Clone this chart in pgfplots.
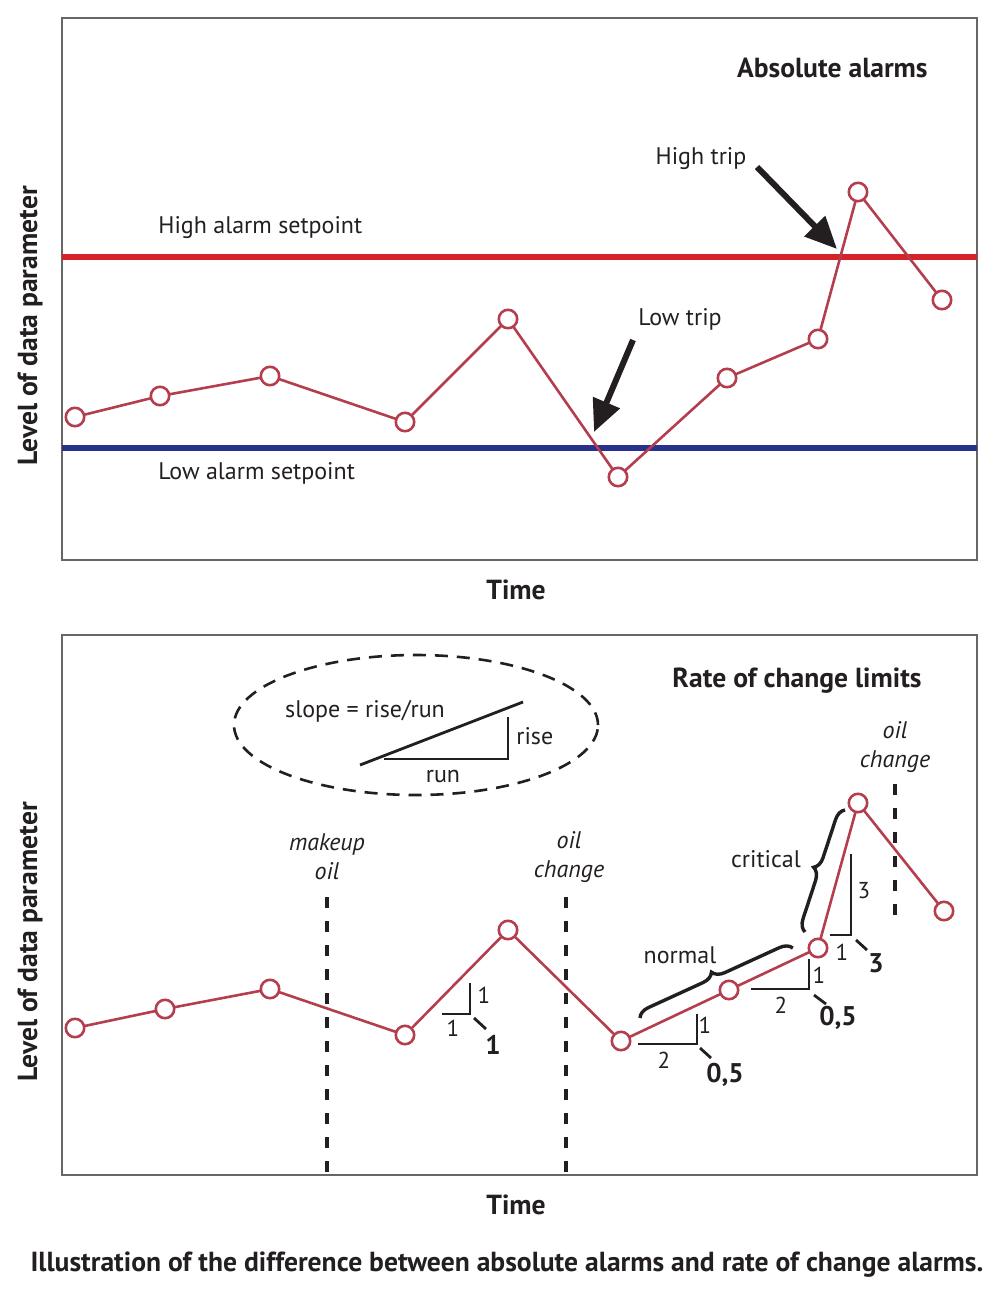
\documentclass[border=0pt]{standalone}
\usepackage{fontspec}
\setmainfont{PT Sans}
\usepackage{pgfplots}
\pgfplotsset{compat=1.18}
\usetikzlibrary{arrows.meta,decorations.pathreplacing}
\definecolor{series}{RGB}{180,62,78}
\definecolor{hired}{RGB}{214,35,40}
\definecolor{loblue}{RGB}{40,50,140}
\definecolor{ink}{RGB}{35,31,32}
\newcommand{\lbl}{\fontsize{12}{14.5}\selectfont}
\newcommand{\sml}{\fontsize{11.5}{13}\selectfont}
\newcommand{\ttl}{\fontsize{13.8}{16}\selectfont\bfseries}
\newcommand{\bnum}{\fontsize{13.5}{16}\selectfont\bfseries}
\pgfplotsset{
  panel/.style={scale only axis, width=457.5pt, xmin=62, xmax=977, ymin=0,
    xtick=\empty, ytick=\empty, axis line style={draw=black!60, line width=0.6pt}, clip=false},
  ser/.style={color=series, line width=1.3pt, mark=*, mark size=4.6pt,
    mark options={fill=white, draw=series, line width=1.3pt}},
}
\tikzset{
  vdash/.style={ink, line width=1.6pt, dash pattern=on 5.5pt off 6.5pt},
  tri/.style={ink, line width=1.4pt},
  every node/.append style={text=ink},
}
\begin{document}
\begin{tikzpicture}[x=1pt,y=1pt]
\path (0,0) rectangle (500,-645);
% ---------- top panel ----------
\begin{axis}[panel, at={(31pt,-280pt)}, anchor=south west, height=271pt, ymax=542]
\addplot[hired, line width=2.6pt, forget plot] coordinates {(62,303) (977,303)};
\addplot[loblue, line width=2.6pt, forget plot] coordinates {(62,112) (977,112)};
\addplot[ser] coordinates {(75,143) (160,164) (270,184) (405,138) (508,241) (618,83) (727,182) (818,221) (858,368) (942,260)};
\node[anchor=west, inner sep=0pt, font=\lbl] at (axis cs:158,332) {High alarm setpoint};
\node[anchor=west, inner sep=0pt, font=\lbl] at (axis cs:158,87) {Low alarm setpoint};
\node[anchor=east, inner sep=0pt, font=\ttl] at (axis cs:928,492) {Absolute alarms};
\node[font=\lbl] at (axis cs:701,401) {High trip};
\node[font=\lbl] at (axis cs:680,241) {Low trip};
\draw[ink, line width=3pt, -{Triangle[length=16pt,width=14pt]}] (axis cs:757,393) -- (axis cs:837,311);
\draw[ink, line width=3pt, -{Triangle[length=16pt,width=14pt]}] (axis cs:633,220) -- (axis cs:594,128);
\end{axis}
% ---------- bottom panel ----------
\begin{axis}[panel, at={(31pt,-587.5pt)}, anchor=south west, height=270pt, ymax=540]
\addplot[ser] coordinates {(75,147) (165,166) (270,186) (405,140) (508,245) (621,134) (729,185) (818,227) (858,372) (944,264)};
% slope legend
\draw[ink, line width=1.3pt, dash pattern=on 6.5pt off 4.5pt] (axis cs:416,450) ellipse [x radius=91pt, y radius=35pt];
\node[font=\lbl] at (axis cs:365,464) {slope = rise/run};
\draw[tri] (axis cs:360,410) -- (axis cs:523,473);
\draw[tri] (axis cs:384,416) -- (axis cs:508,416) -- (axis cs:508,458);
\node[anchor=west, inner sep=0pt, font=\lbl] at (axis cs:516,439) {rise};
\node[font=\lbl] at (axis cs:443,399) {run};
\node[anchor=east, inner sep=0pt, font=\ttl] at (axis cs:922,494) {Rate of change limits};
% dashed verticals
\draw[vdash] (axis cs:327,3) -- (axis cs:327,285);
\draw[vdash] (axis cs:566,3) -- (axis cs:566,285);
\draw[vdash] (axis cs:895,260) -- (axis cs:895,395);
\node[font=\lbl\itshape, align=center] at (axis cs:327,318) {makeup\\oil};
\node[font=\lbl\itshape, align=center] at (axis cs:569,318) {oil\\change};
\node[font=\lbl\itshape, align=center] at (axis cs:895,428) {oil\\change};
% slope triangles
\draw[tri] (axis cs:442,161) -- (axis cs:470,161) -- (axis cs:470,192);
\node[font=\sml] at (axis cs:484,180) {1};
\node[font=\sml] at (axis cs:453,147) {1};
\draw[tri] (axis cs:474,157) -- (axis cs:486,146);
\node[font=\bnum] at (axis cs:493,130) {1};
\draw[tri] (axis cs:638,131) -- (axis cs:697,131) -- (axis cs:697,161);
\node[font=\sml] at (axis cs:705,150) {1};
\node[font=\sml] at (axis cs:664,115) {2};
\draw[tri] (axis cs:700,127) -- (axis cs:711,117);
\node[font=\bnum] at (axis cs:725,100) {0,5};
\draw[tri] (axis cs:751,186) -- (axis cs:809,186) -- (axis cs:809,216);
\node[font=\sml] at (axis cs:819,200) {1};
\node[font=\sml] at (axis cs:781,170) {2};
\draw[tri] (axis cs:814,180) -- (axis cs:826,171);
\node[font=\bnum] at (axis cs:838,157) {0,5};
\draw[tri] (axis cs:830,240) -- (axis cs:851,240) -- (axis cs:851,321);
\node[font=\sml] at (axis cs:864,284) {3};
\node[font=\sml] at (axis cs:842,223) {1};
\draw[tri] (axis cs:856,235) -- (axis cs:867,225);
\node[font=\bnum] at (axis cs:876,212) {3};
% braces
\draw[ink, line width=1.7pt, decorate, decoration={brace, amplitude=6pt}] (axis cs:640,157) -- (axis cs:793,227);
\node[font=\lbl] at (axis cs:680,220) {normal};
\draw[ink, line width=1.7pt, decorate, decoration={brace, amplitude=6pt}] (axis cs:805,243) -- (axis cs:845,365);
\node[font=\lbl] at (axis cs:766,316) {critical};
\end{axis}
% axis labels and caption
\node[rotate=90, font=\ttl] at (15,-163) {Level of data parameter};
\node[rotate=90, font=\ttl] at (15,-471) {Level of data parameter};
\node[font=\ttl] at (258,-295) {Time};
\node[font=\ttl] at (258,-602.5) {Time};
\node[font=\ttl] at (253.5,-632.5) {Illustration of the difference between absolute alarms and rate of change alarms.};
\end{tikzpicture}
\end{document}
